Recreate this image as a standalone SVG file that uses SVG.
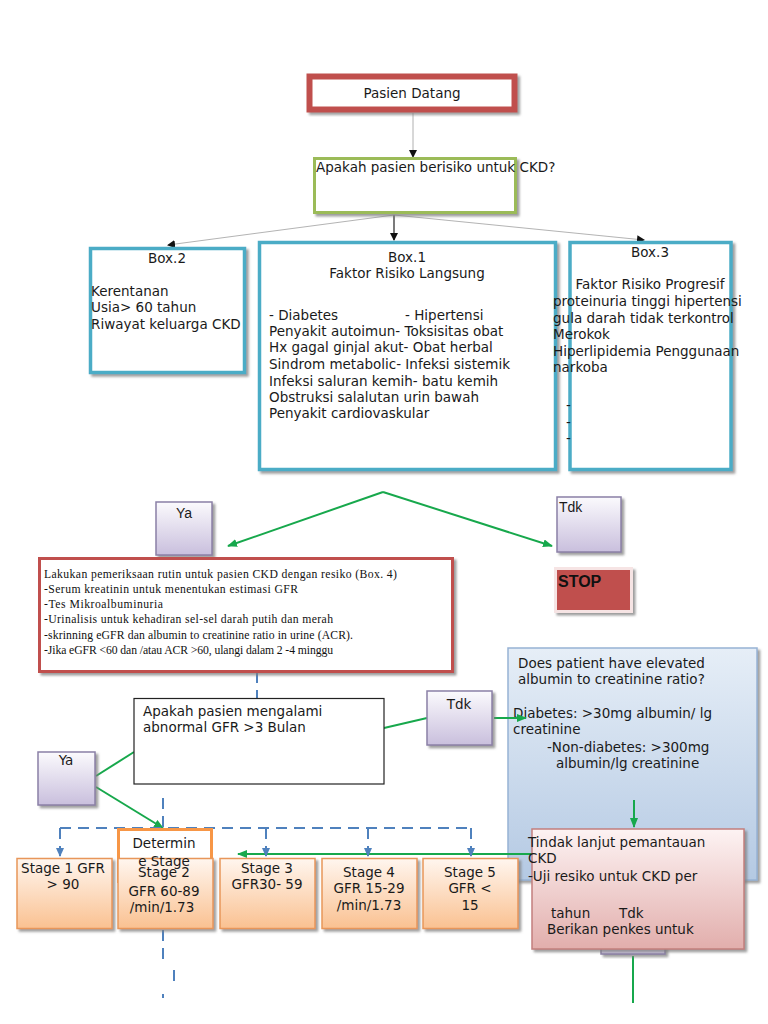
<svg xmlns="http://www.w3.org/2000/svg" width="768" height="1024" viewBox="0 0 768 1024">
<style>
.s{font-family:"DejaVu Sans","Noto Sans",sans-serif;font-size:13.5px;fill:#1a1a1a}
.c{text-anchor:middle}
.a{font-family:"Liberation Sans",Arial,sans-serif;font-size:14px;fill:#1a1a1a}
.r{font-family:"Liberation Serif","Times New Roman",serif;font-size:11.7px;fill:#111}
.teal{fill:#fff;stroke:#4BACC6;stroke-width:3.5}
.lav{fill:url(#gLav);stroke:#8B80A6;stroke-width:1.5}
.stg{fill:url(#gStg);stroke:#E8965A;stroke-width:1.5}
.gl{stroke:#17A84C;stroke-width:2;fill:none}
.bd{stroke:#4F81BD;stroke-width:2;fill:none;stroke-dasharray:11 7}
</style>
<defs>
<filter id="sh" x="-10%" y="-10%" width="130%" height="130%">
<feDropShadow dx="2.5" dy="2.5" stdDeviation="1" flood-color="#7f7f7f" flood-opacity="0.75"/>
</filter>
<linearGradient id="gLav" x1="0" y1="0" x2="0" y2="1"><stop offset="0" stop-color="#FBFAFD"/><stop offset="1" stop-color="#C9BFDD"/></linearGradient>
<linearGradient id="gStg" x1="0" y1="0" x2="0" y2="1"><stop offset="0" stop-color="#FFF6EF"/><stop offset="1" stop-color="#FAC191"/></linearGradient>
<linearGradient id="gBlu" x1="0" y1="0" x2="0" y2="1"><stop offset="0" stop-color="#E6EEF7"/><stop offset="1" stop-color="#B4C9E3"/></linearGradient>
<linearGradient id="gPnk" x1="0" y1="0" x2="0" y2="1"><stop offset="0" stop-color="#FDF3F3"/><stop offset="1" stop-color="#E2AEAC"/></linearGradient>
<marker id="mk" markerWidth="8" markerHeight="8" refX="7" refY="4" orient="auto" markerUnits="userSpaceOnUse"><path d="M0,0 L8,4 L0,8 Z" fill="#111"/></marker>
<marker id="mg" markerWidth="10" markerHeight="8" refX="9" refY="4" orient="auto" markerUnits="userSpaceOnUse"><path d="M0,0 L10,4 L0,8 Z" fill="#17A84C"/></marker>
<marker id="mb" markerWidth="9" markerHeight="8" refX="8" refY="4" orient="auto" markerUnits="userSpaceOnUse"><path d="M0,0 L9,4 L0,8 Z" fill="#4F81BD"/></marker>
</defs>
<rect width="768" height="1024" fill="#fff"/>

<g id="albumin">
<rect x="508" y="648" width="249" height="232" fill="url(#gBlu)" stroke="#97B2D5" stroke-width="1.5" filter="url(#sh)"/>
<text class="s" x="518" y="668">Does patient have elevated</text>
<text class="s" x="518" y="684">albumin to creatinine ratio?</text>
<text class="s" x="513" y="718">Diabetes: &gt;30mg albumin/ lg</text>
<text class="s" x="513" y="734">creatinine</text>
<text class="s" x="547" y="752">-Non-diabetes: &gt;300mg</text>
<text class="s" x="556" y="768">albumin/lg creatinine</text>
</g>

<g id="connectors">
<line x1="413" y1="113" x2="413" y2="157" stroke="#b0b0b0" stroke-width="1" marker-end="url(#mk)"/>
<line x1="394" y1="215" x2="394" y2="240" stroke="#222" stroke-width="1.2" marker-end="url(#mk)"/>
<line x1="394" y1="215" x2="168" y2="245" stroke="#a0a0a0" stroke-width="0.8" marker-end="url(#mk)"/>
<line x1="394" y1="215" x2="644" y2="240" stroke="#a0a0a0" stroke-width="0.8" marker-end="url(#mk)"/>
<line class="gl" x1="383" y1="492" x2="228" y2="546" marker-end="url(#mg)"/>
<line class="gl" x1="383" y1="492" x2="552" y2="546" marker-end="url(#mg)"/>
<line class="bd" x1="257" y1="672" x2="257" y2="704"/>
<line class="gl" x1="96" y1="776" x2="134" y2="752"/>
<line class="gl" x1="96" y1="787" x2="163" y2="828" marker-end="url(#mg)"/>
<line class="gl" x1="384" y1="728" x2="427" y2="718"/>
<line class="gl" x1="494" y1="718" x2="526" y2="718" marker-end="url(#mg)"/>
<line class="gl" x1="634" y1="800" x2="634" y2="827" marker-end="url(#mg)"/>
<line class="gl" x1="532" y1="854" x2="238" y2="854" marker-end="url(#mg)"/>
<line class="gl" x1="633" y1="956" x2="633" y2="1003"/>
<path class="bd" d="M60,828 H471"/>
<path class="bd" d="M163,798 V828"/>
<line class="bd" x1="60" y1="828" x2="60" y2="856" stroke-dasharray="none" marker-end="url(#mb)"/>
<line class="bd" x1="163" y1="828" x2="163" y2="856" stroke-dasharray="none" marker-end="url(#mb)"/>
<line class="bd" x1="266" y1="828" x2="266" y2="856" stroke-dasharray="8 6" marker-end="url(#mb)"/>
<line class="bd" x1="368" y1="828" x2="368" y2="856" stroke-dasharray="8 6" marker-end="url(#mb)"/>
<line class="bd" x1="471" y1="828" x2="471" y2="856" stroke-dasharray="none" marker-end="url(#mb)"/>
<path class="bd" d="M163,930 V964"/>
<path class="bd" d="M174,970 V986"/>
<path class="bd" d="M163,994 V998"/>
</g>

<g id="pasien-datang">
<rect x="309.5" y="76.5" width="205" height="33" fill="#fff" stroke="#C0504D" stroke-width="6" filter="url(#sh)"/>
<text class="s c" x="412" y="98">Pasien Datang</text>
</g>

<g id="berisiko">
<rect x="314.5" y="158.5" width="201" height="54" fill="#fff" stroke="#9BBB59" stroke-width="3" filter="url(#sh)"/>
<text class="s" x="316" y="172">Apakah pasien berisiko untuk CKD?</text>
</g>

<g id="box2">
<rect class="teal" x="90.5" y="248.5" width="154" height="124" filter="url(#sh)"/>
<text class="s c" x="167" y="263">Box.2</text>
<text class="s" x="91" y="296">Kerentanan</text>
<text class="s" x="91" y="312">Usia&gt; 60 tahun</text>
<text class="s" x="91" y="329">Riwayat keluarga CKD</text>
</g>

<g id="box1">
<rect class="teal" x="259.5" y="242.5" width="296" height="227" filter="url(#sh)"/>
<text class="s c" x="407" y="262">Box.1</text>
<text class="s c" x="407" y="278">Faktor Risiko Langsung</text>
<text class="s" x="269" y="320">- Diabetes</text>
<text class="s" x="405" y="320">- Hipertensi</text>
<text class="s" x="269" y="336">Penyakit autoimun- Toksisitas obat</text>
<text class="s" x="269" y="352">Hx gagal ginjal akut- Obat herbal</text>
<text class="s" x="269" y="369">Sindrom metabolic- Infeksi sistemik</text>
<text class="s" x="269" y="386">Infeksi saluran kemih- batu kemih</text>
<text class="s" x="269" y="402">Obstruksi salalutan urin bawah</text>
<text class="s" x="269" y="418">Penyakit cardiovaskular</text>
</g>

<g id="box3">
<rect class="teal" x="570" y="242.5" width="161" height="227" filter="url(#sh)"/>
<text class="s c" x="650" y="257">Box.3</text>
<text class="s c" x="650" y="289">Faktor Risiko Progresif</text>
<text class="s" x="553" y="306">proteinuria tinggi hipertensi</text>
<text class="s" x="553" y="323">gula darah tidak terkontrol</text>
<text class="s" x="553" y="339">Merokok</text>
<text class="s" x="553" y="356">Hiperlipidemia Penggunaan</text>
<text class="s" x="553" y="372">narkoba</text>
<text class="s" x="566" y="410">-</text>
<text class="s" x="566" y="427">-</text>
<text class="s" x="566" y="443">-</text>
</g>

<g id="ya1">
<rect class="lav" x="156" y="502" width="56" height="53" filter="url(#sh)"/>
<text class="a c" x="184" y="518">Ya</text>
</g>

<g id="tdk1">
<rect class="lav" x="557" y="497" width="64" height="55" filter="url(#sh)"/>
<text class="a" x="559" y="512">Tdk</text>
</g>

<g id="stop">
<rect x="555.5" y="568.5" width="76" height="43" fill="#C0504D" stroke="#F6E4E4" stroke-width="3" filter="url(#sh)"/>
<text x="558" y="587" font-family="Liberation Sans,Arial,sans-serif" font-size="16" font-weight="bold" fill="#111">STOP</text>
</g>

<g id="pemeriksaan">
<rect x="39.5" y="558.5" width="413" height="113" fill="#fff" stroke="#C0504D" stroke-width="3" filter="url(#sh)"/>
<text class="r" x="44" y="578" textLength="353" lengthAdjust="spacing">Lakukan pemeriksaan rutin untuk pasien CKD dengan resiko (Box. 4)</text>
<text class="r" x="44" y="593" textLength="254" lengthAdjust="spacing">-Serum kreatinin untuk menentukan estimasi GFR</text>
<text class="r" x="44" y="608" textLength="119" lengthAdjust="spacing">-Tes Mikroalbuminuria</text>
<text class="r" x="44" y="623" textLength="289" lengthAdjust="spacing">-Urinalisis untuk kehadiran sel-sel darah putih dan merah</text>
<text class="r" x="44" y="639" textLength="309" lengthAdjust="spacing">-skrinning eGFR dan albumin to creatinine ratio in urine (ACR).</text>
<text class="r" x="44" y="654" textLength="289" lengthAdjust="spacing">-Jika eGFR &lt;60 dan /atau ACR &gt;60, ulangi dalam 2 -4 minggu</text>
</g>

<g id="abnormal-gfr">
<rect x="134" y="698.5" width="250" height="85.5" fill="#fff" stroke="#222" stroke-width="1.2"/>
<text class="s" x="143" y="716">Apakah pasien mengalami</text>
<text class="s" x="143" y="732">abnormal GFR &gt;3 Bulan</text>
</g>

<g id="ya2">
<rect class="lav" x="38" y="752" width="57" height="53" filter="url(#sh)"/>
<text class="s c" x="66" y="765">Ya</text>
</g>

<g id="tdk2">
<rect class="lav" x="427" y="691" width="65" height="54" filter="url(#sh)"/>
<text class="s c" x="459" y="709">Tdk</text>
</g>

<g id="determine-stage">
<rect x="118.5" y="829.5" width="93" height="52" fill="#fff" stroke="#F79646" stroke-width="3"/>
</g>

<g id="stage1">
<rect class="stg" x="17" y="858.5" width="95" height="70" filter="url(#sh)"/>
<text class="s c" x="63" y="873">Stage 1 GFR</text>
<text class="s c" x="63" y="889">&gt; 90</text>
</g>
<g id="stage2">
<rect class="stg" x="118" y="858.5" width="95" height="70" filter="url(#sh)"/>
<text class="s c" x="164" y="877">Stage 2</text>
<text class="s c" x="164" y="896">GFR 60-89</text>
<text class="s c" x="162" y="912">/min/1.73</text>
</g>
<g id="determine-label">
<text class="s c" x="164" y="848">Determin</text>
<text class="s c" x="164" y="866">e Stage</text>
</g>
<g id="stage3">
<rect class="stg" x="220" y="858.5" width="95" height="70" filter="url(#sh)"/>
<text class="s c" x="267" y="873">Stage 3</text>
<text class="s c" x="267" y="889">GFR30- 59</text>
</g>
<g id="stage4">
<rect class="stg" x="322" y="858.5" width="95" height="70" filter="url(#sh)"/>
<text class="s c" x="369" y="877">Stage 4</text>
<text class="s c" x="369" y="893">GFR 15-29</text>
<text class="s c" x="369" y="910">/min/1.73</text>
</g>
<g id="stage5">
<rect class="stg" x="423" y="858.5" width="95" height="70" filter="url(#sh)"/>
<text class="s c" x="470" y="877">Stage 5</text>
<text class="s c" x="470" y="893">GFR &lt;</text>
<text class="s c" x="470" y="910">15</text>
</g>

<g id="hidden-box">
<rect class="lav" x="601" y="930" width="64" height="24" filter="url(#sh)"/>
</g>

<g id="tindak-lanjut">
<rect x="532" y="829" width="212" height="120" fill="url(#gPnk)" stroke="#C27F7D" stroke-width="1.5" filter="url(#sh)"/>
<text class="s" x="528" y="847">Tindak lanjut pemantauan</text>
<text class="s" x="528" y="863">CKD</text>
<text class="s" x="528" y="881">-Uji resiko untuk CKD per</text>
<text class="s" x="551" y="918">tahun</text>
<text class="s" x="619" y="918">Tdk</text>
<text class="s" x="547" y="934">Berikan penkes untuk</text>
</g>
</svg>
